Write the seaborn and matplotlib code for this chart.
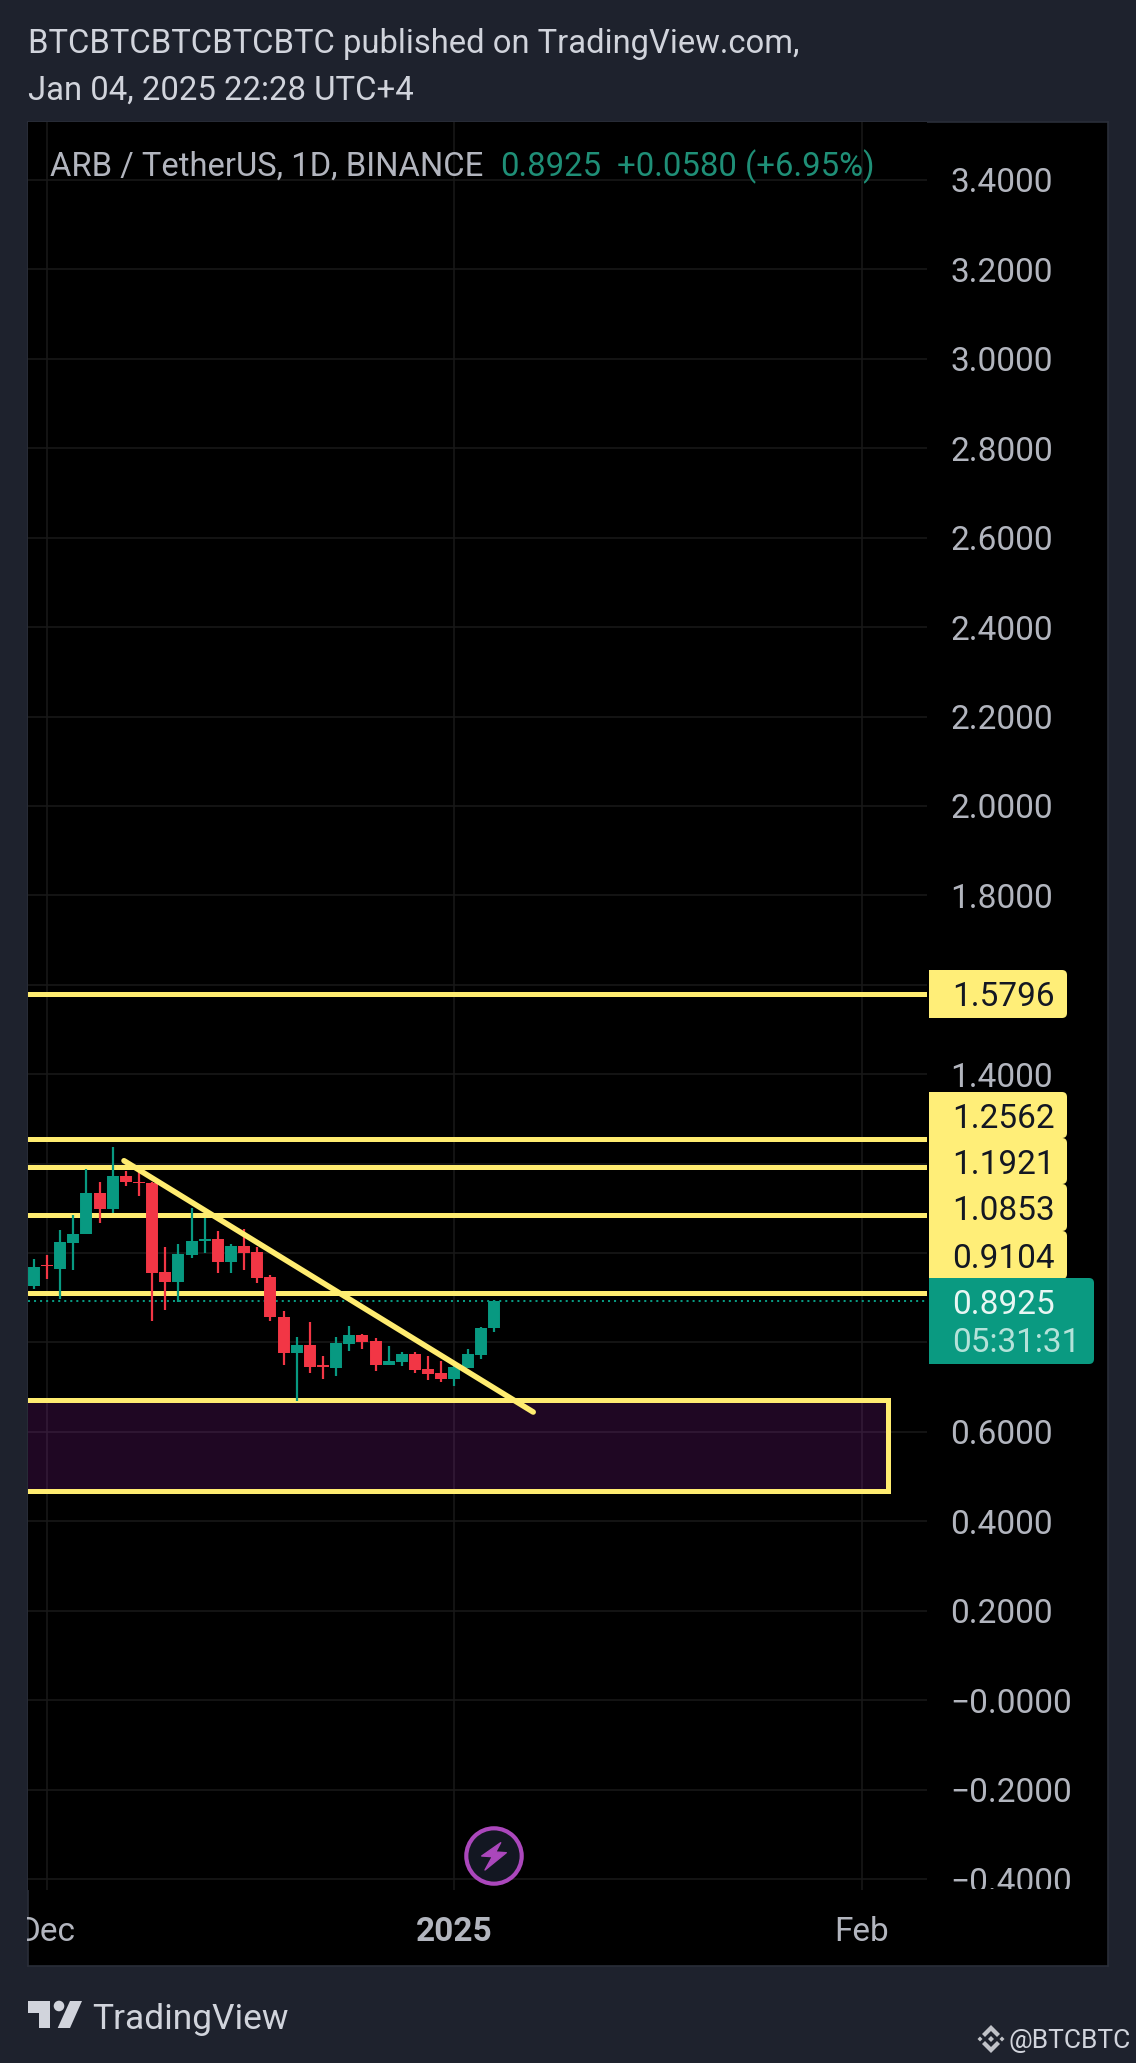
import numpy as np
import pandas as pd
import matplotlib
matplotlib.use("Agg")
import matplotlib.pyplot as plt
import seaborn as sns
from matplotlib.patches import Rectangle, FancyBboxPatch, Polygon, Circle

# Daily candles, first one is Nov 30
opens = [.927, .973, .964, 1.023, 1.043, 1.134, 1.099, 1.172, 1.160, 1.156, .957, .936,
         .996, 1.026, 1.031, .981, 1.015, 1.002, .946, .858, .777, .794, .749, .744,
         .797, .817, .803, .750, .756, .774, .740, .731, .719, .743, .772, .832]
closes = [.968, .970, 1.024, 1.042, 1.134, 1.099, 1.172, 1.159, 1.156, .956, .936, .997,
          1.026, 1.031, .981, 1.015, 1.000, .945, .858, .777, .794, .745, .746, .799,
          .816, .802, .750, .758, .774, .739, .730, .719, .745, .774, .832, .8925]
highs = [.986, .996, 1.052, 1.085, 1.187, 1.159, 1.237, 1.184, 1.186, 1.159, 1.014, 1.020,
         1.101, 1.078, 1.049, 1.020, 1.054, 1.014, .952, .870, .813, .845, .770, .813,
         .837, .820, .809, .792, .779, .779, .770, .759, .747, .785, .835, .895]
lows = [.920, .942, .897, .961, 1.043, 1.068, 1.090, 1.151, 1.128, .848, .873, .891,
        .990, .999, .955, .955, .962, .933, .848, .750, .668, .731, .718, .726,
        .781, .785, .736, .749, .747, .732, .717, .712, .703, .743, .762, .823]

levels = [1.5796, 1.2562, 1.1921, 1.0853, 0.9104]
last_price = 0.8925
zone_top = 0.6713
zone_bottom = 0.4667
zone_end_day = 65.0
trend_days = [6.857, 38.0]
trend_prices = [1.2065, 0.6444]

# 1.6, 1.2, 1.0 and 0.8 sit behind the price tags, so they get no label
price_ticks = [3.4, 3.2, 3.0, 2.8, 2.6, 2.4, 2.2, 2.0, 1.8, 1.6, 1.4, 1.2, 1.0, 0.8,
               0.6, 0.4, 0.2, 0.0, -0.2, -0.4]
price_labels = ["3.4000", "3.2000", "3.0000", "2.8000", "2.6000", "2.4000", "2.2000",
                "2.0000", "1.8000", "", "1.4000", "", "", "",
                "0.6000", "0.4000", "0.2000", "\u22120.0000", "\u22120.2000", "\u22120.4000"]
date_ticks = [1, 32, 63]
date_labels = ["Dec", "2025", "Feb"]

BG = "#1e222d"
BORDER = "#2a2e39"
GRID = "#191919"
TEXT = "#b2b5be"
LIGHT = "#d1d4dc"
GREEN = "#089981"
RED = "#f23645"
YELLOW = "#ffec70"
W, H = 1136, 2063

sns.set_theme(style="dark", rc={"axes.grid": False})
plt.rcParams["font.family"] = ["Roboto", "DejaVu Sans"]


def px_axes(fig, left, top, right, bottom, **kw):
    return fig.add_axes([left / W, 1 - bottom / H, (right - left) / W, (bottom - top) / H], **kw)


fig = plt.figure(figsize=(W / 100, H / 100), dpi=100, facecolor=BG)

panel = px_axes(fig, 28, 122, 1108, 1966, zorder=0, facecolor="black")
panel.set_xticks([])
panel.set_yticks([])
for s in panel.spines.values():
    s.set_color(BORDER)
    s.set_linewidth(1.2)

ax = px_axes(fig, 28, 122, 927, 1890, zorder=1, facecolor="black")

# candles as two-point lines, one thin (wick) and one thick (body) per day
days = np.arange(len(opens))
direction = ["up" if c >= o else "down" for o, c in zip(opens, closes)]
wicks = pd.DataFrame({
    "day": np.tile(days, 2),
    "price": highs + lows,
    "direction": direction * 2,
})
bodies = pd.DataFrame({
    "day": np.tile(days, 2),
    "price": opens + closes,
    "direction": direction * 2,
})
palette = {"up": GREEN, "down": RED}
sns.lineplot(data=wicks, x="day", y="price", hue="direction", units="day", estimator=None,
             palette=palette, legend=False, ax=ax, lw=1.6, zorder=5, solid_capstyle="butt")
sns.lineplot(data=bodies, x="day", y="price", hue="direction", units="day", estimator=None,
             palette=palette, legend=False, ax=ax, lw=8.6, zorder=6, solid_capstyle="butt")

# support / resistance levels
for lv in levels:
    ax.axhline(lv, color=YELLOW, lw=3.6, zorder=3)
ax.axhline(last_price, color=GREEN, lw=1.45, ls=(0, (1, 2)), zorder=4)

# demand zone
ax.fill_between([-5, zone_end_day], zone_bottom, zone_top, color="#9c27b0", alpha=0.2, lw=0, zorder=2)
ax.plot([-5, zone_end_day, zone_end_day, -5], [zone_top, zone_top, zone_bottom, zone_bottom],
        color=YELLOW, lw=3.6, zorder=3, solid_joinstyle="miter")

# trend line
sns.lineplot(x=trend_days, y=trend_prices, color=YELLOW, lw=4, ax=ax, zorder=7,
             solid_capstyle="round")

ax.set_xlim(-0.449, 67.97)
ax.set_ylim(-0.4246, 3.5297)
ax.set_xlabel("")
ax.set_ylabel("")
ax.set_yticks(price_ticks)
ax.set_yticklabels(price_labels)
ax.set_xticks(date_ticks)
ax.set_xticklabels(date_labels)
ax.yaxis.tick_right()
ax.tick_params(axis="y", length=0, pad=17, labelsize=24, labelcolor=TEXT)
ax.tick_params(axis="x", length=0, pad=19, labelsize=24, labelcolor=TEXT)
ax.get_xticklabels()[1].set_fontweight("bold")
ax.grid(True, color=GRID, lw=1.1, zorder=0)
ax.set_axisbelow(True)
for s in ax.spines.values():
    s.set_visible(False)

# overlay in pixel coordinates for tags, header and logos
top = px_axes(fig, 0, 0, W, H, zorder=2)
top.set_xlim(0, W)
top.set_ylim(H, 0)
top.axis("off")
top.patch.set_alpha(0)

top.add_patch(Rectangle((0, 1895), 27.4, 60, color=BG, lw=0))
top.add_patch(Rectangle((935, 1888.5), 160, 10, color="black", lw=0))


def price_tag(y0, y1, right, color):
    top.add_patch(FancyBboxPatch((929, y0), right - 929, y1 - y0, boxstyle="round,pad=0,rounding_size=5",
                                 fc=color, ec="none"))
    top.add_patch(Rectangle((929, y0), 20, y1 - y0, fc=color, ec="none"))


tag_color = "#ffee78"
price_tag(970, 1018, 1067, tag_color)
price_tag(1092, 1138, 1067, tag_color)
price_tag(1138, 1184, 1067, tag_color)
price_tag(1184, 1231, 1067, tag_color)
price_tag(1231, 1279, 1067, tag_color)
price_tag(1278, 1364, 1094, "#0a9a81")

tag_text = [("1.5796", 994), ("1.2562", 1116), ("1.1921", 1162), ("1.0853", 1208), ("0.9104", 1255)]
for label, y in tag_text:
    top.text(952, y, label, color="#131722", fontsize=24, va="center_baseline", ha="left")
top.text(952, 1302, "0.8925", color="#e8f6f3", fontsize=24, va="center_baseline", ha="left")
top.text(952, 1340, "05:31:31", color="#b4e2d9", fontsize=24, va="center_baseline", ha="left")

# header
top.text(28, 53, "BTCBTCBTCBTCBTC published on TradingView.com,", color=LIGHT, fontsize=23.6, va="baseline")
top.text(28, 100, "Jan 04, 2025 22:28 UTC+4", color=LIGHT, fontsize=23.7, va="baseline")
top.text(50, 176, "ARB / TetherUS, 1D, BINANCE", color=TEXT, fontsize=23.6, va="baseline")
top.text(500, 176, "0.8925", color="#1f8f77", fontsize=23.7, va="baseline")
top.text(617, 176, "+0.0580 (+6.95%)", color="#1f8f77", fontsize=23.7, va="baseline")

# lightning badge
top.add_patch(Circle((494, 1856), 27.7, fc="#131722", ec="#ab47bc", lw=3))
bolt = [(500.7, 1842.7), (481.7, 1856), (492.3, 1856.7), (485, 1870), (506.3, 1852.7), (495.7, 1852)]
top.add_patch(Polygon(bolt, closed=True, fc="#ab47bc", ec="#ab47bc", lw=1, joinstyle="round"))

# TradingView logo
logo_t = [(28.3, 2001), (50, 2001), (50, 2028), (39, 2028), (39, 2012.7), (28.3, 2012.7)]
logo_s = [(70, 2001), (82, 2001), (70, 2028), (57.7, 2028)]
top.add_patch(Polygon(logo_t, closed=True, fc=LIGHT, ec="none"))
top.add_patch(Polygon(logo_s, closed=True, fc=LIGHT, ec="none"))
top.add_patch(Circle((59, 2006), 5.3, fc=LIGHT, ec="none"))
top.text(92, 2029, "TradingView", color=LIGHT, fontsize=25.5, va="baseline")

# watermark
wm = "#c0c2c8"
cx, cy = 991, 2039
chevron = [(0, -14), (9, -5), (6, -2), (0, -8), (-6, -2), (-9, -5)]
top.add_patch(Polygon([(cx + a, cy + b) for a, b in chevron], closed=True, fc=wm, ec="none"))
top.add_patch(Polygon([(cx + a, cy - b) for a, b in chevron], closed=True, fc=wm, ec="none"))
for dx, r in [(0, 3), (-11, 2.5), (11, 2.5)]:
    top.add_patch(Polygon([(cx + dx, cy - r), (cx + dx + r, cy), (cx + dx, cy + r), (cx + dx - r, cy)],
                          closed=True, fc=wm, ec="none"))
top.text(1008, 2048, "@BTCBTC", color=LIGHT, fontsize=19, va="baseline")

fig.savefig("out.png", dpi=100, facecolor=BG)
